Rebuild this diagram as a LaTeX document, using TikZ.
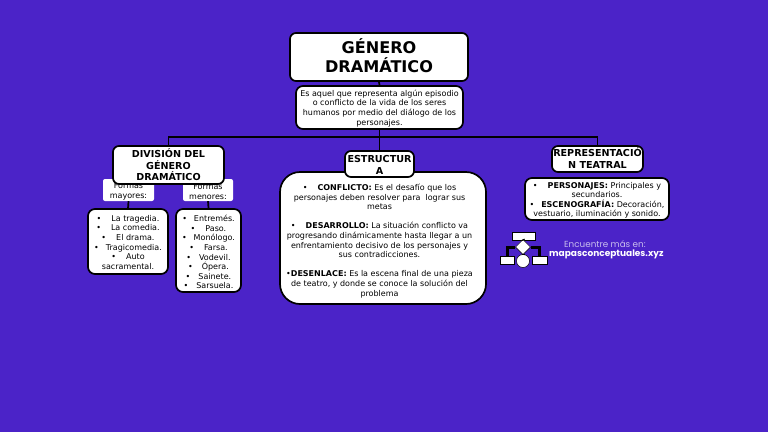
\documentclass[tikz,border=0pt]{standalone}
\usepackage{fontspec}
\setmainfont{DejaVu Sans}
\newfontfamily\logofont{Poppins}
\usetikzlibrary{shapes.geometric, positioning}
\definecolor{backviolet}{HTML}{4B23C8}
\tikzset{
  titlebox/.style={draw=black, fill=white, line width=1.7pt, rounded corners=6pt, align=center, inner sep=0pt},
  infobox/.style={titlebox, rounded corners=7pt, font=\fontsize{8}{9.6}\selectfont},
  formabox/.style={fill=white, rounded corners=2pt, align=center, inner sep=0pt, font=\fontsize{8}{10}\selectfont},
  headfont/.style={font=\fontsize{9.6}{11.4}\selectfont\bfseries},
  conn/.style={draw=black, line width=1.7pt},
  logopart/.style={fill=white, draw=black, line width=0.5pt, inner sep=0pt}
}
\newcommand{\bitem}[2]{•\hspace{#1}#2}
\begin{document}
\begin{tikzpicture}[x=1pt, y=-1pt]
  % Background
  \fill[backviolet] (0,0) rectangle (768,432);
  \useasboundingbox (0,0) rectangle (768,432);

  % Title and definition
  \coordinate (bus) at (379.5,137);
  \node[titlebox, minimum width=178pt, minimum height=48pt, font=\fontsize{16.1}{19}\selectfont\bfseries] (title) at (379,57) {GÉNERO\\DRAMÁTICO\rule[-3pt]{0pt}{0pt}};
  \node[infobox, minimum width=167pt, minimum height=43pt] (desc) at (379.5,107.5) {\rule{0pt}{8.2pt}Es aquel que representa algún episodio\\o conflicto de la vida de los seres\\humanos por medio del diálogo de los\\personajes.};

  % Formas boxes
  \node[formabox, minimum width=51pt, minimum height=22pt] (mayores) at (128.5,190) {\rule{0pt}{9pt}Formas\\mayores:};
  \node[formabox, minimum width=50pt, minimum height=22pt] (menores) at (208,190) {\rule{0pt}{9pt}Formas\\menores:};

  % Estructura text
  \node[infobox, rounded corners=20pt, minimum width=206pt, minimum height=132pt] (conflictos) at (383,238) {\begin{tabular}{@{}c@{\hspace{7pt}}}
    \rule{0pt}{13.5pt}\bitem{10pt}{\textbf{CONFLICTO:} Es el desafío que los}\\
    personajes deben resolver para \ lograr sus\\
    metas\\[9.6pt]
    \bitem{10pt}{\textbf{DESARROLLO:} La situación conflicto va}\\
    progresando dinámicamente hasta llegar a un\\
    enfrentamiento decisivo de los personajes y\\
    sus contradicciones.\\[9.6pt]
    •\textbf{DESENLACE:} Es la escena final de una pieza\\
    de teatro, y donde se conoce la solución del\\
    problema
  \end{tabular}};

  % Central boxes
  \node[titlebox, headfont, minimum width=111pt, minimum height=38pt] (division) at (168.5,165) {DIVISIÓN DEL\\GÉNERO\\DRAMÁTICO};
  \node[titlebox, headfont, minimum width=69pt, minimum height=26pt] (estructura) at (379.5,164) {\rule{0pt}{9pt}ESTRUCTUR\\A};
  \node[titlebox, headfont, minimum width=91pt, minimum height=26pt] (representacion) at (597.5,159) {REPRESENTACIÓ\\N TEATRAL\rule[-2pt]{0pt}{0pt}};

  % Connectors
  \draw[conn] (title.south) -- (desc.north);
  \draw[conn] (desc.south) -- (estructura.north);
  \draw[conn] (division.north) |- (bus);
  \draw[conn] (representacion.north) |- (bus);

  % Lists
  \node[infobox, minimum width=80pt, minimum height=65pt] (listmayores) at (128,241.5) {\rule{0pt}{7.5pt}\bitem{10pt}{La tragedia.}\\\bitem{10pt}{La comedia.}\\\bitem{10pt}{El drama.}\\\bitem{7pt}{Tragicomedia.}\\\bitem{10pt}{Auto}\\sacramental.};
  \node[infobox, minimum width=65pt, minimum height=83pt] (listmenores) at (208.5,250.5) {\rule{0pt}{9.5pt}\bitem{7pt}{Entremés.}\\\bitem{10pt}{Paso.}\\\bitem{7pt}{Monólogo.}\\\bitem{10pt}{Farsa.}\\\bitem{8pt}{Vodevil.}\\\bitem{9pt}{Ópera.}\\\bitem{8pt}{Sainete.}\\\bitem{8pt}{Sarsuela.}};
  \draw[conn] (mayores.south) -- (listmayores.north);
  \draw[conn] (menores.south) -- (listmenores.north);

  % Representacion text
  \node[infobox, minimum width=144pt, minimum height=42pt] (personajes) at (597,199) {\rule{0pt}{8.5pt}\bitem{10pt}{\textbf{PERSONAJES:} Principales y}\\secundarios.\\\bitem{7pt}{\textbf{ESCENOGRAFÍA:} Decoración,}\\vestuario, iluminación y sonido.};

  % Logo
  \node[logopart, minimum width=23pt, minimum height=8pt] (logotop) at (523.5,236) {};
  \node[logopart, shape=diamond, minimum width=15pt, minimum height=15pt] (logodiamond) at (523,247) {};
  \node[logopart, minimum width=14pt, minimum height=8pt] (logoleft) at (507.5,260.5) {};
  \node[logopart, minimum width=15pt, minimum height=8pt] (logoright) at (539.5,260.5) {};
  \node[logopart, shape=circle, minimum size=13pt] (logocircle) at (523,261) {};
  \draw[conn, line width=3pt] (logoleft.north) |- (logodiamond.west);
  \draw[conn, line width=3pt] (logoright.north) |- (logodiamond.east);
  \draw[conn, line width=3pt] (logotop.south) -- (logodiamond.north);
  \draw[conn, line width=3pt] (logodiamond.south) -- (logocircle.north);
  \node[text=white!70!backviolet, font=\logofont\fontsize{8.8}{10}\selectfont, anchor=west, inner sep=0pt] (logotext) at (564,244) {Encuentre más en:};
  \node[text=white, font=\logofont\fontsize{9}{11}\selectfont\bfseries, anchor=west, inner sep=0pt] (logourl) at (549,254.5) {mapasconceptuales.xyz};
\end{tikzpicture}
\end{document}
